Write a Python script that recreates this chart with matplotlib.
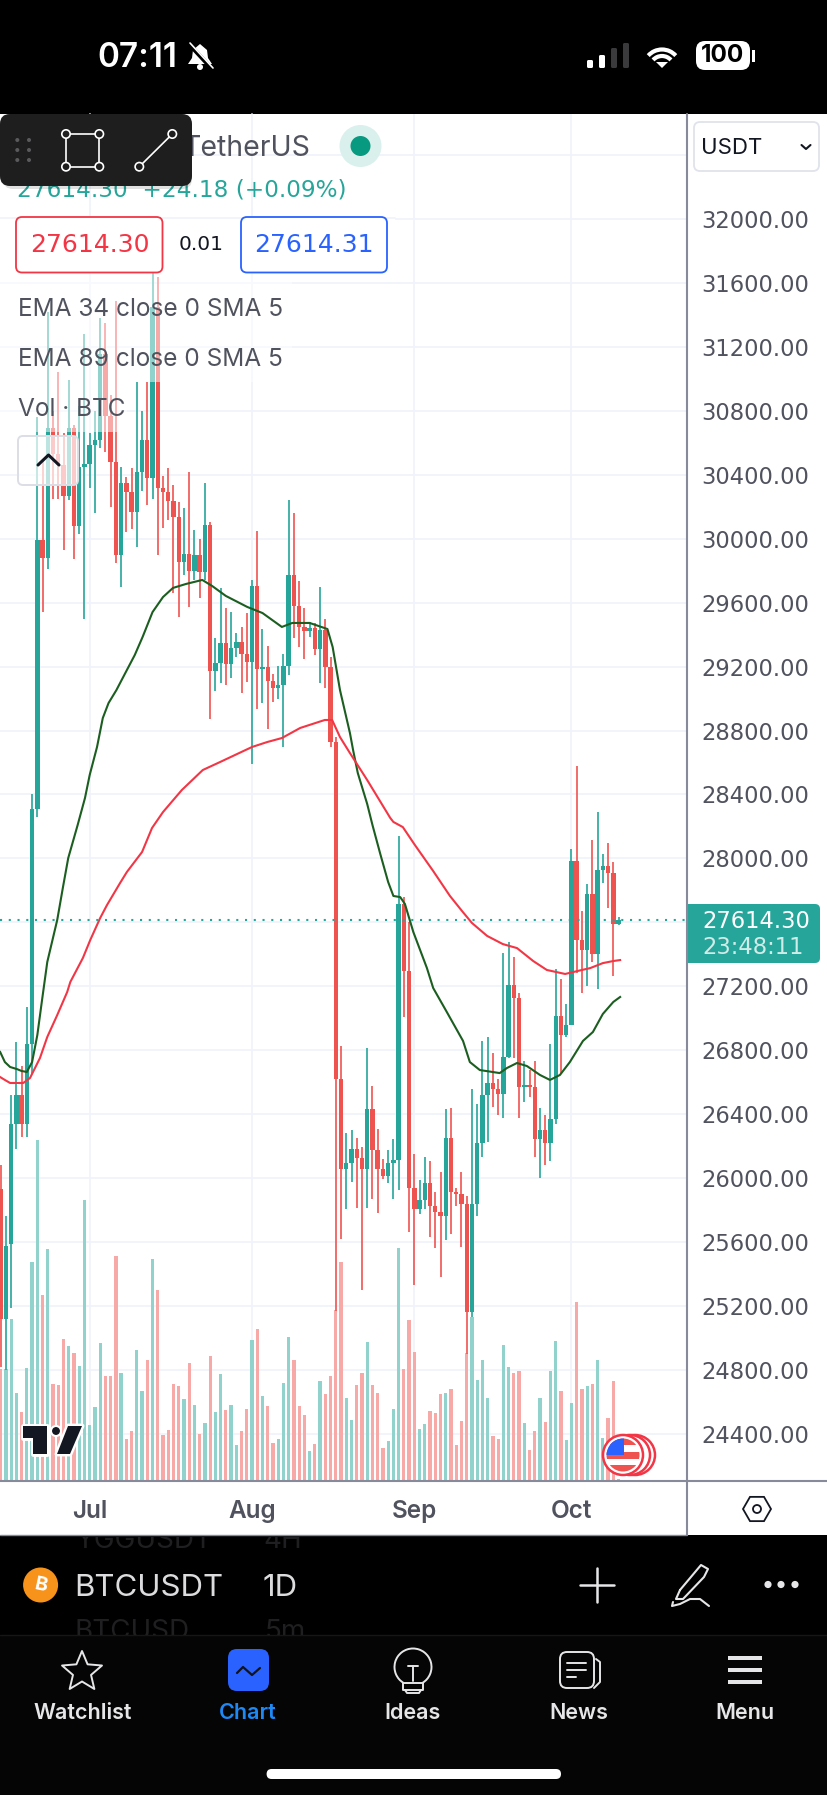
import numpy as np
import matplotlib
matplotlib.use("Agg")
from matplotlib import pyplot as plt
from matplotlib.patches import Circle, FancyBboxPatch, Polygon, Rectangle, Arc, RegularPolygon

plt.rcParams['font.family'] = ['Inter', 'DejaVu Sans']

# daily candles, 14 Jun to 10 Oct, day 0 is 1 Jul
first_day = -17
opens = [25930, 25120, 25590, 26340, 26520, 26340, 26840, 28310, 29990, 29880, 30690, 30530, 30460, 30270, 30690, 30080, 30450,
         30470, 30585, 30620, 31156, 30770, 30480, 29900, 30350, 30290, 30170, 30415, 30620, 30380, 31450, 30315, 30295,
         30235, 30135, 29855, 29905, 29800, 29900, 29790, 30085, 29170, 29225, 29350, 29215, 29315, 29355, 29280,
         29230, 29705, 29185, 29200, 29110, 29065, 29085, 29205, 29770, 29580, 29450, 29420, 29440, 29310, 29430, 29195, 28730,
         26620, 26055, 26095, 26185, 26125, 26055, 26430, 26175, 26055, 26010, 26095, 26115, 27715, 27295, 25940,
         25805, 25865, 25970, 25825, 25790, 25760, 26250, 25910, 25900, 25840, 25160, 25840, 26220, 26520, 26595, 26560,
         26525, 26760, 27205, 27125, 26570, 26580, 26570, 26245, 26300, 26220, 26370, 27015, 26895,
         26955, 27985, 27490, 27425, 27775, 27405, 27925, 27950, 27910, 27590]
highs = [26080, 25760, 26520, 26850, 26700, 27070, 28400, 30760, 30500, 31420, 30800, 31040, 30660, 30990, 30710, 30830, 31280,
         30660, 30800, 31380, 31350, 30900, 31490, 30450, 30385, 30440, 30980, 30800, 30980, 31820, 31640, 30390, 30440,
         30335, 30230, 30190, 30420, 30055, 30000, 30350, 30105, 29380, 29690, 29565, 29540, 29410, 29450, 29535,
         29740, 30050, 29435, 29330, 29155, 29205, 29280, 30240, 30160, 29735, 29565, 29480, 29475, 29695, 29495, 29260, 28760,
         26825, 26280, 26300, 26250, 26195, 26815, 26575, 26310, 26120, 26175, 26245, 28140, 27760, 27600, 26150,
         25985, 26130, 26105, 25910, 26035, 26435, 26440, 25940, 26035, 25885, 26560, 26465, 26855, 26885, 26780, 26620,
         27410, 27480, 27385, 27160, 26735, 26675, 26735, 26440, 26395, 26840, 27305, 27245, 27090,
         28060, 28575, 27670, 27840, 28115, 28290, 28025, 28095, 27980, 27635]
lows = [24820, 24800, 25190, 26180, 26260, 26260, 26650, 28260, 29540, 29810, 30250, 30250, 29930, 30240, 29870, 30030, 29500,
        30320, 30160, 30570, 30540, 30200, 29850, 29700, 30040, 30060, 29950, 30300, 30210, 30250, 29900, 30070, 30115,
        29660, 29510, 29770, 29570, 29740, 29630, 29740, 28870, 29050, 29100, 29085, 29130, 29260, 29035, 29105,
        28590, 28935, 28970, 28810, 28980, 28995, 28700, 29150, 29380, 29320, 29250, 29385, 29275, 29100, 29065, 28700, 25170,
        25620, 25805, 25975, 25815, 25300, 25815, 25870, 25780, 25995, 25970, 25870, 25925, 27010, 25660, 25330,
        25775, 25805, 25630, 25565, 25380, 25615, 25650, 25825, 25570, 24900, 25130, 25760, 26130, 26225, 26445, 26395,
        26375, 26750, 26750, 26375, 26475, 26510, 26130, 26000, 26085, 26110, 26340, 26660, 26885,
        26955, 27280, 27160, 27200, 27355, 27180, 27845, 27690, 27265, 27585]
closes = [25120, 25575, 26340, 26520, 26340, 26840, 28310, 29990, 29880, 30690, 30530, 30460, 30270, 30690, 30080, 30450, 30470,
          30585, 30620, 31156, 30770, 30480, 29900, 30350, 30290, 30170, 30415, 30620, 30380, 31450, 30315, 30295, 30235,
          30135, 29855, 29905, 29800, 29900, 29790, 30085, 29170, 29225, 29350, 29215, 29315, 29355, 29280, 29230,
          29705, 29185, 29200, 29110, 29065, 29085, 29205, 29770, 29580, 29450, 29420, 29440, 29310, 29430, 29195, 28730, 26620,
          26055, 26095, 26185, 26125, 26055, 26430, 26175, 26055, 26010, 26095, 26115, 27715, 27295, 25940, 25805,
          25865, 25970, 25825, 25790, 25760, 26250, 25910, 25900, 25840, 25160, 25840, 26220, 26520, 26595, 26560, 26525,
          26760, 27205, 27125, 26570, 26580, 26570, 26245, 26300, 26220, 26370, 27015, 26895, 26955,
          27985, 27490, 27425, 27775, 27405, 27925, 27950, 27910, 27590, 27614]
volumes = [33.7, 33.7, 48.7, 26.5, 20.6, 33.9, 65.7, 102.4, 55.7, 69.6, 29.0, 28.8, 42.7, 40.5, 38.4, 34.5, 84.2,
           16.9, 22.2, 41.4, 31.4, 31.4, 67.4, 32.4, 12.7, 14.9, 39.2, 27.0, 36.2, 66.7, 57.2, 13.7, 15.2,
           29.2, 28.5, 24.6, 35.5, 22.7, 14.2, 17.5, 37.6, 20.7, 32.2, 21.4, 22.9, 10.7, 15.0, 21.7,
           42.2, 45.5, 25.4, 22.4, 11.4, 12.7, 29.5, 43.2, 36.2, 22.4, 19.7, 9.0, 11.0, 29.9, 26.2, 31.4, 51.2,
           65.7, 24.9, 18.4, 28.7, 32.5, 41.7, 28.7, 26.5, 9.9, 11.9, 21.7, 69.9, 33.7, 48.2, 38.7,
           15.7, 17.0, 20.9, 20.4, 26.0, 26.5, 27.5, 10.7, 17.9, 38.4, 49.2, 30.2, 36.2, 24.9, 13.5, 12.5,
           40.7, 34.2, 32.5, 32.9, 17.4, 9.4, 15.0, 25.0, 17.7, 33.0, 42.0, 27.0, 12.4,
           23.5, 53.7, 27.6, 28.4, 29.2, 36.2, 13.0, 18.9, 29.9, 0.7]

# EMA 34 and EMA 89
ema34_days = [-17.1, -16.2, -15.2, -13.9, -13, -12, -11, -10, -9.1, -8.1, -6.2, -5.1, -4.1, -2.3, -0.9, 0, 1.4, 2.5, 3.6, 5.1,
              6.9, 8.6, 10.1, 12, 14, 15.9, 18.4, 21.5, 23.4, 26, 30.1, 33, 36.7, 38.7, 42, 45.4, 46.4, 47.8, 49.7, 50.3,
              51.2, 53, 54, 55.5, 57, 58, 59.3, 60.2, 61.8, 64.4, 65.6, 68.2, 71.3, 72.6, 74.5, 78.3, 79.7, 81.6, 83.5,
              86, 87.9, 89.8, 91.7, 94.2, 96.1, 98, 100, 101.3]
ema34_values = [26789, 26726, 26695, 26682, 26670, 26664, 26726, 26895, 27114, 27352, 27615, 27821, 28002, 28209, 28378, 28522,
                28697, 28878, 28972, 29053, 29166, 29272, 29385, 29541, 29635, 29692, 29717, 29742, 29704, 29642, 29573, 29535,
                29448, 29473, 29473, 29435, 29322, 29053, 28784, 28678, 28534, 28340, 28209, 28027, 27852, 27765, 27758, 27715,
                27540, 27314, 27189, 27039, 26858, 26726, 26676, 26657, 26689, 26720, 26701, 26645, 26614, 26645, 26726, 26858,
                26914, 27027, 27102, 27133]
ema89_days = [-17.1, -16.2, -15.2, -12.7, -11.4, -9.5, -8.1, -6.2, -4.3, -3.7, -1.3, 0.1, 2, 3.3, 5.8, 7.1, 10, 11.9, 14, 17.6,
              21.6, 24.9, 31, 33.9, 36.7, 40.2, 44.9, 46.3, 47.8, 49.7, 53, 57.4, 58, 59.8, 62.1, 65.6, 68.8, 71.1, 73, 75.9,
              78.9, 81.6, 84.7, 87.3, 90.8, 93.1, 95.6, 98, 100, 101.3]
ema89_values = [26632, 26614, 26595, 26595, 26626, 26751, 26883, 27020, 27164, 27227, 27377, 27489, 27627, 27708, 27846, 27915,
                28040, 28190, 28290, 28428, 28553, 28603, 28697, 28728, 28753, 28816, 28866, 28866, 28759, 28659, 28490, 28253,
                28228, 28196, 28084, 27921, 27765, 27671, 27596, 27515, 27464, 27439, 27358, 27302, 27277, 27295, 27314, 27345,
                27358, 27364]

price_ticks = [32000, 31600, 31200, 30800, 30400, 30000, 29600, 29200, 28800, 28400, 28000, 27600, 27200, 26800, 26400, 26000,
               25600, 25200, 24800, 24400]
hidden_tick = 27600  # sits behind the last price tag
month_days = [0, 31, 62, 92]
month_labels = ["Jul", "Aug", "Sep", "Oct"]
last_price = 27614.30

GREEN = "#26a69a"
RED = "#ef5350"
GREY = "#50535e"
NUM = "DejaVu Sans"  # tabular digits, close to the app's numbers
W, H = 828, 1795

days = np.arange(first_day, first_day + len(closes))
opens, highs, lows, closes = map(np.array, (opens, highs, lows, closes))
up = closes >= opens
colors = np.where(up, GREEN, RED)

fig = plt.figure(figsize=(W / 100, H / 100), dpi=100, facecolor="white")
rect = [0, 1 - 1481 / H, 687 / W, (1481 - 114) / H]

ax_grid = fig.add_axes(rect, zorder=0)
ax_vol = fig.add_axes(rect, zorder=1)
ax = fig.add_axes(rect, zorder=2)
for a in (ax_grid, ax_vol, ax):
    a.set_xlim(-17.13, 114.07)
    for s in a.spines.values():
        s.set_visible(False)
for a in (ax_vol, ax):
    a.patch.set_visible(False)
ax_grid.set_ylim(24105, 32657)
ax.set_ylim(24105, 32657)
ax_vol.set_ylim(0, 410.1)
ax_vol.set_xticks([])
ax_vol.set_yticks([])

# grid
ax_grid.set_xticks(month_days)
ax_grid.set_xticklabels(month_labels, fontsize=17.5, fontweight="semibold", color=GREY)
ax_grid.tick_params(axis="x", length=0, pad=14)
ax_grid.set_yticks(price_ticks + [32400])
ax_grid.set_yticklabels([])
ax_grid.tick_params(axis="y", length=0)
ax_grid.grid(True, color="#f0f3fa", lw=1.3)
ax_grid.set_axisbelow(True)

# volume
ax_vol.bar(days, volumes, width=0.62, color=np.where(up, "#92d2cc", "#f7a9a7"))

# candles
ax.set_xticks([])
ax.yaxis.tick_right()
ax.set_yticks(price_ticks)
ax.set_yticklabels(["" if p == hidden_tick else f"{p:.2f}" for p in price_ticks], fontsize=16.3, color=GREY, family=NUM)
ax.tick_params(axis="y", length=0, pad=10)
ax.vlines(days, lows, highs, colors=colors, lw=1.2)
ax.bar(days, np.maximum(np.abs(closes - opens), 8), bottom=np.minimum(opens, closes), width=0.84, color=colors)
ax.plot(ema34_days, ema34_values, color="#1b5e20", lw=1.5)
ax.plot(ema89_days, ema89_values, color="#f23645", lw=1.5)
ax.axhline(last_price, color=GREEN, lw=1.5, ls=(0, (1, 3.2)))

# everything else is app chrome in screen pixels
ui = fig.add_axes([0, 0, 1, 1], zorder=5)
ui.set_xlim(0, W)
ui.set_ylim(H, 0)
ui.axis("off")
ui.patch.set_visible(False)


def rbox(x0, y0, x1, y1, r, **kw):
    p = FancyBboxPatch((x0 + r, y0 + r), x1 - x0 - 2 * r, y1 - y0 - 2 * r,
                       boxstyle=f"round,pad={r},rounding_size={r}", **kw)
    ui.add_patch(p)
    return p


def seg(xs, ys, color="white", lw=1.5, **kw):
    ui.plot(xs, ys, color=color, lw=lw, solid_capstyle="round", solid_joinstyle="round", **kw)


# legend backgrounds, candles show through faded
ui.add_patch(Rectangle((0, 100), 395, 172, fc="white", ec="none"))
ui.add_patch(Rectangle((0, 272), 292, 110, fc="white", ec="none", alpha=0.5))
ui.add_patch(Rectangle((0, 382), 127, 50, fc="white", ec="none", alpha=0.5))
for y in (155, 218):
    seg([0, 395], [y, y], color="#f0f3fa", lw=1.3)
seg([89.7, 89.7], [114, 272], color="#f0f3fa", lw=1.3)
seg([252, 252], [114, 272], color="#f0f3fa", lw=1.3)

ui.text(311, 148, "TetherUS", fontsize=20.5, color=GREY, ha="right", va="center")
ui.add_patch(Circle((360.5, 146), 21, fc="#daf0ec", ec="none", zorder=2.5))
ui.add_patch(Circle((360.5, 146), 10, fc="#089981", ec="none", zorder=2.6))
ui.text(17, 190, "27614.30  +24.18 (+0.09%)", fontsize=16.7, color=GREEN, va="center", family=NUM)

rbox(16, 217, 162.5, 272.5, 6, fc="white", ec="#f23645", lw=1.3, zorder=2.5)
ui.text(89.5, 245, "27614.30", fontsize=18, color="#f23645", ha="center", va="center", family=NUM)
ui.text(201, 245, "0.01", fontsize=14.5, color="#131722", ha="center", va="center", family=NUM)
rbox(241, 217, 387, 272.5, 6, fc="white", ec="#2962ff", lw=1.3, zorder=2.5)
ui.text(314, 245, "27614.31", fontsize=18, color="#2962ff", ha="center", va="center", family=NUM)

ui.text(18, 309, "EMA 34 close 0 SMA 5", fontsize=17.6, color=GREY, va="center")
ui.text(18, 359, "EMA 89 close 0 SMA 5", fontsize=17.6, color=GREY, va="center")
ui.text(18, 409, "Vol \u00b7 BTC", fontsize=17.6, color=GREY, va="center")

# collapse button
rbox(18, 436, 78, 485, 5, fc=(1, 1, 1, 0.7), ec="#dcdee5", lw=1.4)
seg([38, 48.5, 59], [465, 455, 465], color="#131722", lw=2.2)

# drawing toolbar
rbox(3, 118, 192, 189, 10, fc=(0, 0, 0, 0.12), ec="none", zorder=3.3)
rbox(0, 114, 192, 186, 10, fc="#1e1e1f", ec="none", zorder=3.4)
for gx in (17.3, 29):
    for gy in (140, 150, 160):
        ui.add_patch(Circle((gx, gy), 2, fc="#5a5a5c", ec="none", zorder=3.5))
ui.add_patch(Rectangle((66, 134), 33.3, 32.7, fc="none", ec="white", lw=1.2, zorder=3.5))
seg([139.3, 172.3], [166.7, 134], lw=1.2, zorder=3.5)
for cx, cy in [(66, 134), (99.3, 134), (66, 166.7), (99.3, 166.7), (139.3, 166.7), (172.3, 134)]:
    ui.add_patch(Circle((cx, cy), 4.2, fc="#1e1e1f", ec="white", lw=1.2, zorder=3.6))

# TradingView mark
for pts in ([(23, 1426), (47, 1426), (47, 1454), (33, 1454), (33, 1438), (23, 1438)],
            [(68, 1426), (82, 1426), (70, 1454), (57, 1454)]):
    ui.add_patch(Polygon(pts, closed=True, fc="#131722", ec="white", lw=3.5, joinstyle="round", zorder=3))
    ui.add_patch(Polygon(pts, closed=True, fc="#131722", ec="none", zorder=3.2))
ui.add_patch(Circle((56, 1431), 5, fc="#131722", ec="white", lw=1.5, zorder=3.2))

# US events marker
for cx in (635, 630):
    ui.add_patch(Circle((cx, 1455), 20, fc="white", ec="#f23645", lw=1.8, zorder=3))
flag = Circle((623, 1455), 20, fc="white", ec="#f23645", lw=1.8, zorder=3.1)
ui.add_patch(flag)
clip = Circle((623, 1455), 16.5, transform=ui.transData)
for rx, ry, rw, rh, rc in [(606, 1438, 36, 7, "#ef5350"), (606, 1452, 36, 7, "#ef5350"), (606, 1465, 36, 10, "#ef5350"),
                           (606, 1438, 18, 17, "#2962ff")]:
    r = Rectangle((rx, ry), rw, rh, fc=rc, ec="none", zorder=3.2)
    ui.add_patch(r)
    r.set_clip_path(clip)

# price scale
seg([0, W], [1481, 1481], color="#868a9b", lw=1.5)
rbox(694, 122, 819, 171, 6, fc="white", ec="#e0e3eb", lw=1.3)
ui.text(701, 148, "USDT", fontsize=16, color="#131722", va="center")
seg([801.5, 806, 810.5], [145, 149, 145], color="#131722", lw=1.5)
rbox(687, 904, 820, 963, 5, fc=GREEN, ec="none", zorder=2.5)
ui.add_patch(Rectangle((687, 904), 8, 59, fc=GREEN, ec="none", zorder=2.5))
seg([687, 687], [114, 1535], color="#868a9b", lw=1.5, zorder=2.7)
ui.text(702, 921, "27614.30", fontsize=16.3, color="white", va="center", family=NUM)
ui.text(702, 948, "23:48:11", fontsize=16.3, color="#d0ece9", va="center", family=NUM)
ui.add_patch(RegularPolygon((757, 1509), 6, radius=14, orientation=np.pi / 6, fc="none", ec="#131722", lw=1.3))
ui.add_patch(Circle((757, 1509), 4, fc="none", ec="#131722", lw=1.3))

# status bar
ui.add_patch(Rectangle((0, 0), W, 114, fc="black", ec="none"))
ui.text(97, 58, "07:11", fontsize=24, fontweight="semibold", color="white", va="center")
ui.add_patch(Polygon([(188, 64), (192, 58), (193, 50), (200, 44), (207, 50), (208, 58), (212, 64)], closed=True, fc="white", ec="none", zorder=2.1))
ui.add_patch(Circle((200, 67), 3, fc="white", ec="none", zorder=2.1))
seg([188, 213], [43, 70], color="black", lw=3, zorder=2.2)
seg([190, 213], [43, 68], color="white", lw=1.2, zorder=2.3)
for bx, top, col in [(590, 60, "white"), (602, 55, "white"), (614, 48, "#3a3a3c"), (626, 43, "#3a3a3c")]:
    rbox(bx - 3, top, bx + 3, 68, 1.5, fc=col, ec="none")
for rad in (37, 24):
    ui.add_patch(Arc((662, 68), rad, rad, angle=0, theta1=222, theta2=318, color="white", lw=3))
ui.add_patch(Polygon([(656, 62), (668, 62), (662, 68)], closed=True, fc="white", ec="none"))
rbox(696, 41, 750, 70, 9, fc="white", ec="none")
ui.text(723, 56, "100", fontsize=17.5, fontweight="bold", color="black", ha="center", va="center")
ui.add_patch(Rectangle((752, 50), 3, 12, fc="white", ec="none"))

# bottom bars
ui.add_patch(Rectangle((0, 1535), W, 260, fc="black", ec="none"))
seg([0, 687], [1535, 1535], color="#868a9b", lw=1)
ghost = dict(fontsize=20, color="#1f1f21", va="center", clip_on=True)
t1 = ui.text(75, 1541, "YGGUSDT", **ghost)
t2 = ui.text(263, 1541, "4H", **ghost)
t3 = ui.text(75, 1632, "BTCUSD", **ghost)
t4 = ui.text(265, 1632, "5m", **ghost)
band = Rectangle((0, 1537), W, 98, transform=ui.transData)
for t in (t1, t2, t3, t4):
    t.set_clip_path(band)
ui.add_patch(Rectangle((0, 1635), W, 160, fc="#050505", ec="none"))
seg([0, W], [1635, 1635], color="#161618", lw=1)

ui.add_patch(Circle((40.6, 1585), 17.5, fc="#f7931a", ec="none"))
ui.text(40.8, 1585, "B", fontsize=14, fontweight="bold", color="white", ha="center", va="center", rotation=-12)
ui.text(74, 1588, "BTCUSDT", fontsize=22.5, color="#dcdcde", va="center")
ui.text(263, 1588, "1D", fontsize=22.5, color="#dcdcde", va="center")
seg([580, 614], [1585, 1585], color="#e6e6e8", lw=1.8)
seg([597, 597], [1568, 1602], color="#e6e6e8", lw=1.8)
# pen
seg([680, 701, 708, 704, 683, 676, 680], [1590, 1565, 1569, 1577, 1599, 1599, 1590], color="#e6e6e8", lw=1.5)
seg([673, 672, 680, 690, 700, 709], [1602, 1606, 1604, 1599, 1599, 1606], color="#e6e6e8", lw=1.5)
for dx in (768, 781, 795):
    ui.add_patch(Circle((dx, 1584.5), 3.6, fc="#e6e6e8", ec="none"))

# nav icons
outer = np.deg2rad(np.arange(-90, 270, 72))
inner = outer + np.deg2rad(36)
star = []
for o, i in zip(outer, inner):
    star.append((82 + 21 * np.cos(o), 1672 + 21 * np.sin(o)))
    star.append((82 + 9.5 * np.cos(i), 1672 + 9.5 * np.sin(i)))
ui.add_patch(Polygon(star, closed=True, fc="none", ec="#e6e6e8", lw=1.4, joinstyle="round"))

rbox(228, 1649, 269, 1691, 9, fc="#2962ff", ec="none")
seg([237, 243, 252, 260], [1673, 1667, 1675, 1668], color="#10141f", lw=1.6)

ui.add_patch(Arc((413, 1667), 37, 37, theta1=120, theta2=60, color="#e6e6e8", lw=1.4))
seg([403, 403, 423, 423], [1683, 1690, 1690, 1683], color="#e6e6e8", lw=1.4)
seg([405, 407, 419, 421], [1690, 1693, 1693, 1690], color="#e6e6e8", lw=1.4)
seg([408, 418], [1666, 1666], color="#e6e6e8", lw=1.4)
seg([413, 413], [1666, 1681], color="#e6e6e8", lw=1.4)
seg([403, 423], [1683, 1683], color="#e6e6e8", lw=1.4)

rbox(560, 1652, 594, 1688, 7, fc="#050505", ec="#e6e6e8", lw=1.4, zorder=2.5)
seg([596, 600, 600, 594], [1659, 1662, 1682, 1688], color="#e6e6e8", lw=1.4)
for ly, lx in [(1663, 586), (1670, 586), (1677, 576)]:
    seg([567, lx], [ly, ly], color="#e6e6e8", lw=1.4, zorder=3)

for by in (1658, 1670, 1682):
    ui.add_patch(Rectangle((727.6, by - 2), 34.8, 4, fc="#e6e6e8", ec="none"))

nav_labels = ["Watchlist", "Chart", "Ideas", "News", "Menu"]
nav_x = [83, 248, 413, 579, 744.5]
for x, label in zip(nav_x, nav_labels):
    ui.text(x, 1713, label, fontsize=15.5, fontweight="semibold", ha="center", va="center",
            color="#1e88f5" if label == "Chart" else "#e6e6e8")

rbox(266.6, 1769, 561, 1779, 5, fc="white", ec="none")

fig.savefig("out.png", dpi=100)
